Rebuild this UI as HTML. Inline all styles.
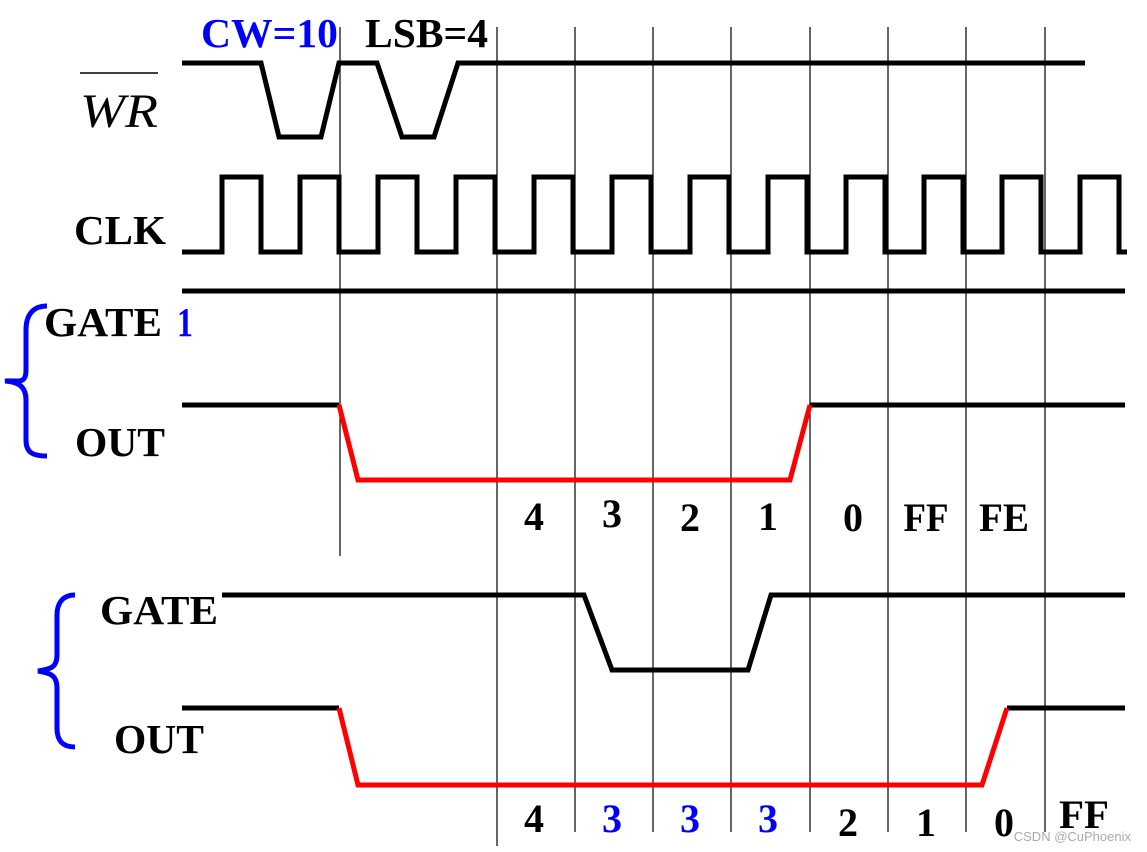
<!DOCTYPE html>
<html><head><style>body{margin:0;background:#fff}svg{display:block}</style></head><body>
<svg width="1147" height="852" viewBox="0 0 1147 852" xmlns="http://www.w3.org/2000/svg" font-family="Liberation Serif, serif" font-weight="bold">
<g stroke="#000" stroke-width="1.2">
<line x1="340" y1="27" x2="340" y2="556"/>
<line x1="497" y1="27" x2="497" y2="846"/>
<line x1="575" y1="27" x2="575" y2="832"/>
<line x1="653" y1="27" x2="653" y2="832"/>
<line x1="731" y1="27" x2="731" y2="832"/>
<line x1="810" y1="27" x2="810" y2="832"/>
<line x1="888" y1="27" x2="888" y2="832"/>
<line x1="966" y1="27" x2="966" y2="832"/>
<line x1="1045" y1="27" x2="1045" y2="832"/>
</g>
<g fill="none" stroke="#000" stroke-width="5" stroke-linejoin="miter">
<polyline points="182,63 261,63 279,137 321,137 339,63 377,63 402,137 434,137 458,63 1085,63"/>
<polyline points="182,252 222,252 222,177 261,177 261,252 300,252 300,177 339,177 339,252 378,252 378,177 417,177 417,252 456,252 456,177 495,177 495,252 534,252 534,177 573,177 573,252 612,252 612,177 651,177 651,252 690,252 690,177 729,177 729,252 768,252 768,177 807,177 807,252 846,252 846,177 885,177 885,252 924,252 924,177 963,177 963,252 1002,252 1002,177 1041,177 1041,252 1080,252 1080,177 1119,177 1119,252 1127,252"/>
<line x1="182" y1="291" x2="1125" y2="291"/>
<line x1="182" y1="405" x2="339" y2="405"/>
<line x1="810" y1="405" x2="1125" y2="405"/>
<polyline points="222,595 584,595 612,670 748,670 771,595 1125,595"/>
<line x1="182" y1="708" x2="339" y2="708"/>
<line x1="1007" y1="708" x2="1125" y2="708"/>
</g>
<g fill="none" stroke="#f00" stroke-width="5">
<polyline points="339,405 358,480 790,480 810,405"/>
<polyline points="339,708 358,785 982,785 1007,708"/>
</g>
<g fill="none" stroke="#00f" stroke-width="5">
<path d="M47,306 C32,306 26,316 26,330 L26,370 C26,385 18,380 5,381 C18,382 26,386 26,400 L26,440 C26,452 32,456 47,456"/>
<path d="M75,595 C62,595 57,604 57,615 L57,655 C57,668 50,669 38,671 C50,673 57,675 57,688 L57,728 C57,740 62,747 75,747"/>
</g>
<g lengthAdjust="spacingAndGlyphs">
<text x="201" y="47" font-size="41" fill="#00f" textLength="137" lengthAdjust="spacingAndGlyphs">CW=10</text>
<text x="365" y="47" font-size="41" textLength="123" lengthAdjust="spacingAndGlyphs">LSB=4</text>
<text x="80" y="127" font-size="48" font-weight="normal" font-style="italic" textLength="78" lengthAdjust="spacingAndGlyphs">WR</text>
<text x="74" y="244" font-size="41" textLength="92" lengthAdjust="spacingAndGlyphs">CLK</text>
<text x="44" y="336" font-size="41" textLength="118" lengthAdjust="spacingAndGlyphs">GATE</text>
<text x="177" y="336" font-size="41" fill="#00f" textLength="16" lengthAdjust="spacingAndGlyphs">1</text>
<text x="75" y="456" font-size="41" textLength="90" lengthAdjust="spacingAndGlyphs">OUT</text>
<text x="100" y="624" font-size="41" textLength="118" lengthAdjust="spacingAndGlyphs">GATE</text>
<text x="114" y="753" font-size="41" textLength="90" lengthAdjust="spacingAndGlyphs">OUT</text>
</g>
<line x1="80" y1="73" x2="158" y2="73" stroke="#000" stroke-width="1.5"/>
<g font-size="40" text-anchor="middle">
<text x="534" y="530">4</text><text x="612" y="527">3</text><text x="690" y="531">2</text><text x="768" y="530">1</text><text x="853" y="531">0</text><text x="926" y="531" textLength="45" lengthAdjust="spacingAndGlyphs">FF</text><text x="1004" y="531" textLength="50" lengthAdjust="spacingAndGlyphs">FE</text>
<text x="534" y="832">4</text><text x="612" y="832" fill="#00f">3</text><text x="690" y="832" fill="#00f">3</text><text x="768" y="832" fill="#00f">3</text><text x="848" y="836">2</text><text x="926" y="836">1</text><text x="1004" y="836">0</text><text x="1084" y="828" textLength="50" lengthAdjust="spacingAndGlyphs">FF</text>
</g>
<text x="1131" y="841" font-size="13" font-weight="normal" font-family="Liberation Sans, sans-serif" fill="#aaa" text-anchor="end">CSDN @CuPhoenix</text>
</svg>
</body></html>
